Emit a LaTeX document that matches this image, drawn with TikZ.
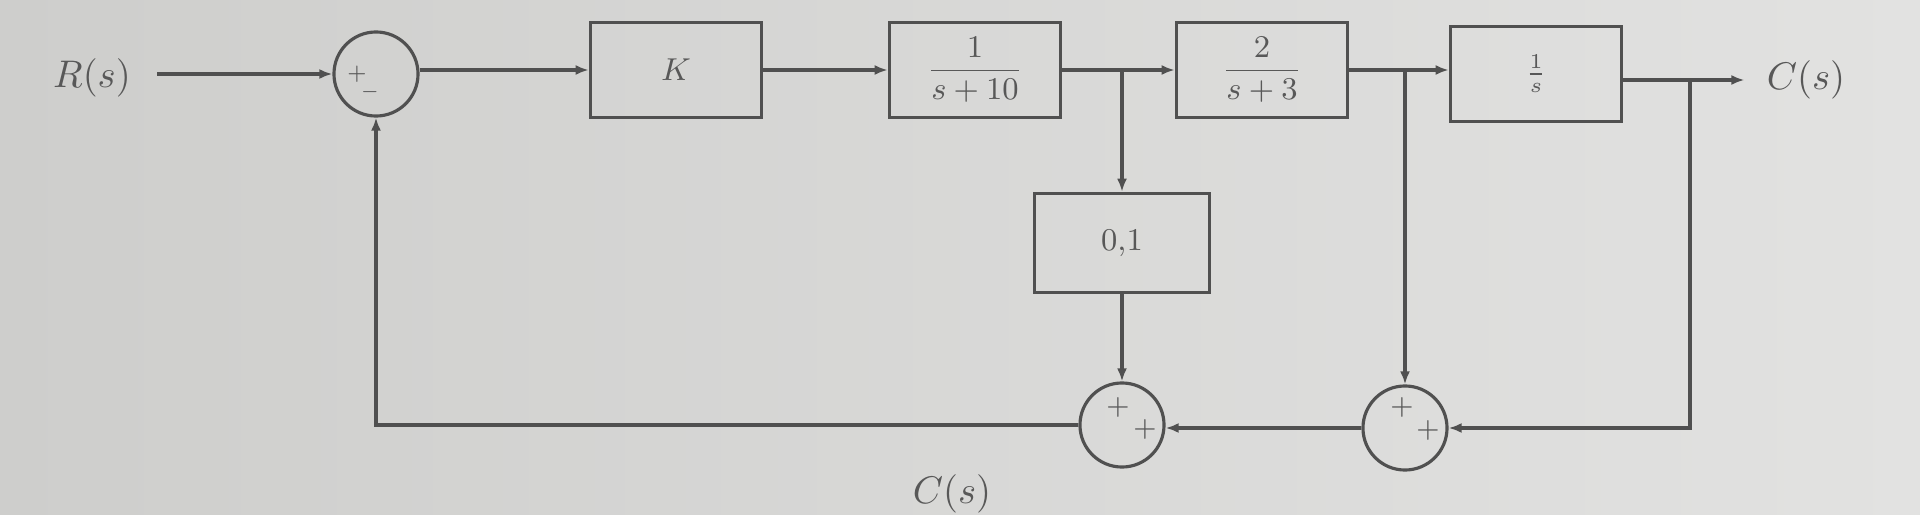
\documentclass[tikz,border=0pt]{standalone}
\usepackage{amsmath}
\usetikzlibrary{arrows.meta}
\definecolor{bgl}{RGB}{206,206,204}
\definecolor{bgr}{RGB}{226,226,225}
\definecolor{ink}{RGB}{80,80,80}
\definecolor{txtc}{RGB}{88,88,88}
\tikzset{
  arr/.style={draw=ink, line width=0.9pt, -{Latex[length=0.13cm,width=0.1cm]}},
  blk/.style={draw=ink, line width=1pt, minimum width=1.71cm, minimum height=0.95cm, inner sep=0pt, text=txtc, font=\fontsize{9}{11}\selectfont},
  sumc/.style={draw=ink, line width=0.9pt, circle, minimum size=0.84cm, inner sep=0pt},
  sig/.style={text=txtc, font=\fontsize{11}{13}\selectfont},
  sgn/.style={text=txtc, inner sep=0pt, font=\fontsize{8}{9}\selectfont},
  sgns/.style={text=txtc, inner sep=0pt, font=\fontsize{6.5}{7}\selectfont},
  sgnt/.style={text=txtc, inner sep=0pt, font=\fontsize{5}{6}\selectfont}
}
\begin{document}
\begin{tikzpicture}[x=0.01cm, y=-0.01cm]
\useasboundingbox (0,0) rectangle (1920,515);
\begin{scope}
\clip (0,0) rectangle (1920,515);
\fill[left color=bgl, right color=bgr] (0,0) rectangle (1920,515);

% nodes
\node[sig] (R) at (92,78) {$R(s)$};
\node[sumc] (s1) at (376,74) {};
\node[blk] (K) at (676,70) {$K$};
\node[blk] (G1) at (975,70) {$\dfrac{1}{s+10}$};
\node[blk] (G2) at (1262,70) {$\dfrac{2}{s+3}$};
\node[blk] (G3) at (1536,74) {$\tfrac{1}{s}$};
\node[sig] (C) at (1806,80) {$C(s)$};
\node[blk, minimum width=1.75cm, minimum height=0.99cm] (H) at (1122,243) {$0{,}1$};
\node[sumc] (s2) at (1122,425) {};
\node[sumc] (s3) at (1405,428) {};

\coordinate (b1) at (1122,70);
\coordinate (b2) at (1405,70);
\coordinate (b3) at (1690,80);

% signs
\node[sgns] (p1) at (357,74) {$+$};
\node[sgnt] (m1) at (370,92) {$-$};
\node[sgn] (p2a) at (1118,407) {$+$};
\node[sgn] (p2b) at (1145,429) {$+$};
\node[sgn] (p3a) at (1402,407) {$+$};
\node[sgn] (p3b) at (1428,430) {$+$};

% connectors
\draw[arr, shorten <=0.14cm] (R.east |- s1) -- (s1.west);
\draw[arr] (s1.east |- K) -- (K.west);
\draw[arr] (K) -- (G1);
\draw[arr] (G1) -- (G2);
\draw[arr] (G2.east) -- (G3.west |- G2.east);
\draw[arr, shorten >=0.1cm] (G3.east |- C) -- (C.west);
\draw[arr] (b1) -- (H.north);
\draw[arr] (H.south) -- (s2.north);
\draw[arr] (b2) -- (s3.north);
\draw[arr] (b3) |- (s3.east);
\draw[arr] (s3.west) -- (s2.east |- s3.west);
\draw[arr] (s2.west) -| (s1.south);

% caption fragment at the lower edge
\node[sig, inner sep=0pt] (cap) at (952,494) {$C(s)$};
\end{scope}
\end{tikzpicture}
\end{document}
